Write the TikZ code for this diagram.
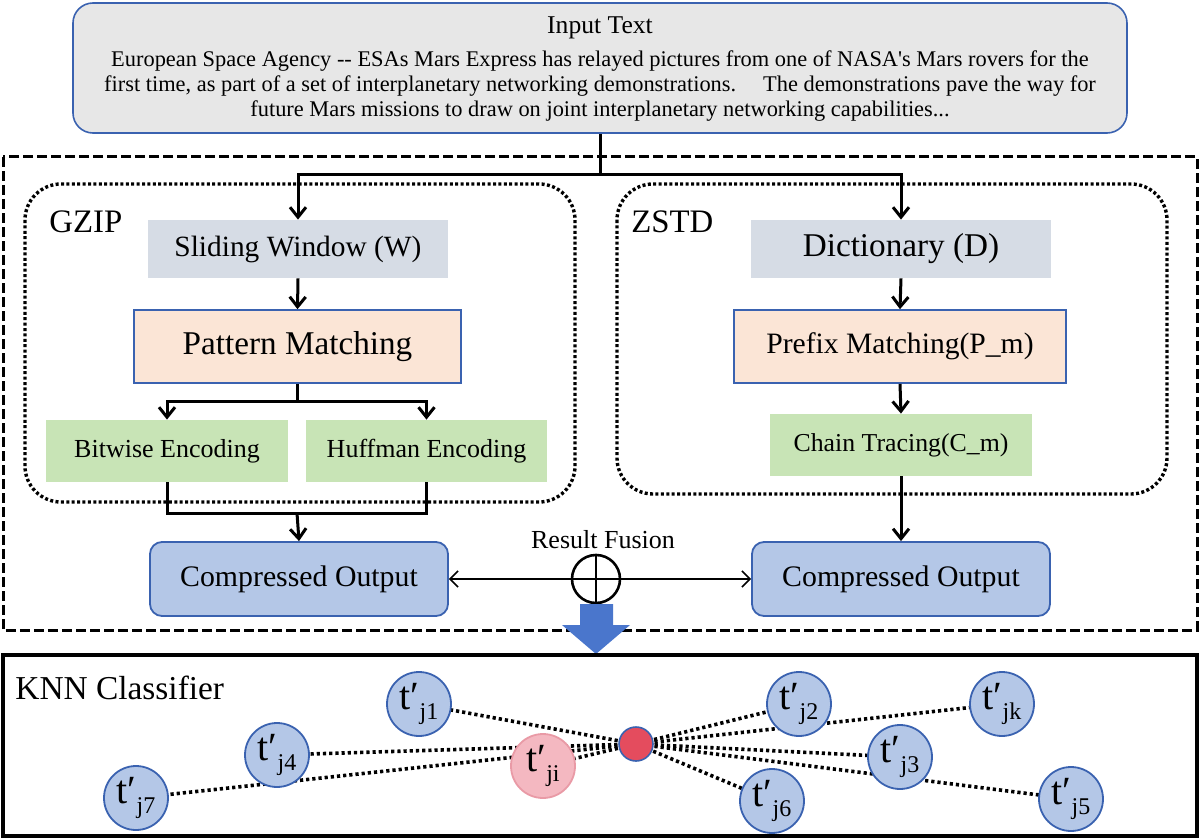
\documentclass[tikz,border=0pt]{standalone}
\usepackage{fontspec}
\setmainfont{Liberation Serif}[Ligatures=TeXOff]
\usetikzlibrary{arrows.meta,backgrounds}
\definecolor{bd}{HTML}{3A62B0}
\definecolor{inpfill}{HTML}{E7E7E7}
\definecolor{slate}{HTML}{D6DCE5}
\definecolor{peach}{HTML}{FBE5D6}
\definecolor{lgreen}{HTML}{C8E4B6}
\definecolor{cblue}{HTML}{B4C7E7}
\definecolor{pinkf}{HTML}{F4B8C1}
\definecolor{pinkb}{HTML}{E99AA6}
\definecolor{redf}{HTML}{E44C5E}
\definecolor{bigarrow}{HTML}{4A76CC}
\newcommand\tlab[1]{{\fontsize{20}{20}\selectfont t′}\raisebox{-0.5em}{\fontsize{12}{12}\selectfont #1}}
\begin{document}
\begin{tikzpicture}[x=0.5pt,y=-0.5pt,
  blk/.style={inner sep=0pt, align=center},
  ln/.style={line width=1.5pt},
  arr/.style={line width=1.5pt, -{Straight Barb[length=5pt,width=8pt,line width=1.5pt]}},
  thinarr/.style={line width=0.8pt, -{Straight Barb[length=4pt,width=8pt,line width=0.8pt]}},
  dotbox/.style={line width=1.7pt, dash pattern=on 1.5pt off 1.2pt, rounded corners=18pt},
  dotln/.style={line width=1.8pt, dash pattern=on 1.6pt off 1.5pt},
  tnode/.style={circle, inner sep=0pt, minimum size=32pt, fill=cblue, draw=bd, line width=0.9pt},
  cout/.style={blk, fill=cblue, draw=bd, line width=0.9pt, rounded corners=6pt, minimum width=149pt, minimum height=37pt, font=\fontsize{14.9}{16}\selectfont}
]
\useasboundingbox (0,0) rectangle (1200,840);

% input
\node[blk, fill=inpfill, draw=bd, line width=0.8pt, rounded corners=10pt, minimum width=527pt, minimum height=65pt] (inp) at (600,68) {};
\node[blk, font=\fontsize{12.8}{14}\selectfont] (inpt) at (600,28) {Input Text};
\node[blk, font=\fontsize{11.2}{12.7}\selectfont] (inpb) at (600,86) {European Space Agency -- ESAs Mars Express has relayed pictures from one of NASA's Mars rovers for the\\
first time, as part of a set of interplanetary networking demonstrations.\hspace{1.2em}The demonstrations pave the way for\\
future Mars missions to draw on joint interplanetary networking capabilities...};

% outer dashed box
\draw[line width=1.5pt, dash pattern=on 5pt off 2pt] (3,157) rectangle (1197,630);

% dotted groups
\draw[dotbox] (25,184) rectangle (575,502);
\draw[dotbox] (617,184) rectangle (1167,494);
\node[blk, anchor=west, font=\fontsize{16.4}{18}\selectfont] (gz) at (49,222) {GZIP};
\node[blk, anchor=west, font=\fontsize{16.4}{18}\selectfont] (zs) at (631,222) {ZSTD};

% GZIP nodes
\node[blk, fill=slate, minimum width=150pt, minimum height=29pt, font=\fontsize{14.7}{16}\selectfont] (sw) at (298,249) {Sliding Window (W)};
\node[blk, fill=peach, draw=bd, line width=0.8pt, minimum width=163.5pt, minimum height=36.5pt, font=\fontsize{16.6}{18}\selectfont] (pm) at (297.5,346.5) {Pattern Matching};
\node[blk, fill=lgreen, minimum width=121pt, minimum height=31pt, font=\fontsize{13}{15}\selectfont] (bw) at (167,451) {Bitwise Encoding};
\node[blk, fill=lgreen, minimum width=120.5pt, minimum height=31pt, font=\fontsize{13}{15}\selectfont] (hf) at (426.5,451) {Huffman Encoding};

% ZSTD nodes
\node[blk, fill=slate, minimum width=150pt, minimum height=29pt, font=\fontsize{16.6}{18}\selectfont] (dc) at (901,249) {Dictionary (D)};
\node[blk, fill=peach, draw=bd, line width=0.8pt, minimum width=166pt, minimum height=36.5pt, font=\fontsize{14.8}{16}\selectfont] (pf) at (900,346.5) {Prefix Matching(P\_m)};
\node[blk, fill=lgreen, minimum width=131pt, minimum height=31pt, font=\fontsize{12.9}{14}\selectfont] (ct) at (901,445) {Chain Tracing(C\_m)};

% outputs
\node[cout] (cl) at (299,579) {Compressed Output};
\node[cout] (cr) at (901,579) {Compressed Output};

% fusion
\node[circle, draw, line width=1.3pt, minimum size=24pt, inner sep=0pt] (fu) at (596,579) {};
\draw[line width=1.3pt] (fu.north) -- (fu.south) (fu.west) -- (fu.east);
\node[blk, font=\fontsize{13}{14}\selectfont] (rf) at (603,540) {Result Fusion};
\draw[thinarr] (fu.west) -- (cl.east);
\draw[thinarr] (fu.east) -- (cr.west);

% connectors
\coordinate (jn) at (600,175);
\draw[ln] (inp.south) -- (jn);
\draw[arr] (jn) -| (sw.north);
\draw[arr] (jn) -| (dc.north);
\draw[arr] (sw.south) -- (pm.north);
\coordinate (pj) at (297.5,401);
\draw[ln] (pm.south) -- (pj);
\draw[arr] (pj) -| (bw.north);
\draw[arr] (pj) -| (hf.north);
\coordinate (bj) at (297,513);
\draw[ln] (bw.south) |- (bj) -| (hf.south);
\draw[arr] (bj) -- (cl.north);
\draw[arr] (dc.south) -- (pf.north);
\draw[arr] (pf.south) -- (ct.north);
\draw[arr] (ct.south) -- (cr.north);

% big blue arrow
\fill[bigarrow] (580,604) -- (613,604) -- (613,625) -- (630,625) -- (596,654) -- (562,625) -- (580,625) -- cycle;

% KNN box
\draw[line width=1.6pt] (3,655) rectangle (1197,836);
\node[blk, anchor=west, font=\fontsize{16.7}{18}\selectfont] (knn) at (15,688) {KNN Classifier};

\node[circle, inner sep=0pt, minimum size=17pt, fill=redf, draw=bd, line width=0.8pt] (rd) at (636,744) {};
\node[tnode] (j1) at (419,704) {\tlab{j1}};
\node[tnode] (j4) at (277,755) {\tlab{j4}};
\node[tnode] (j7) at (136,798) {\tlab{j7}};
\node[tnode, fill=pinkf, draw=pinkb] (ji) at (543,766) {\tlab{ji}};
\node[tnode] (j2) at (799,704) {\tlab{j2}};
\node[tnode] (jk) at (1002,704) {\tlab{jk}};
\node[tnode] (j3) at (900,757) {\tlab{j3}};
\node[tnode] (j6) at (772,801) {\tlab{j6}};
\node[tnode] (j5) at (1071,799) {\tlab{j5}};

\begin{scope}[on background layer]
\foreach \n in {j1,j4,j7,ji,j2,jk,j3,j6,j5}
  \draw[dotln] (rd.center) -- (\n.center);
\end{scope}
\end{tikzpicture}
\end{document}
